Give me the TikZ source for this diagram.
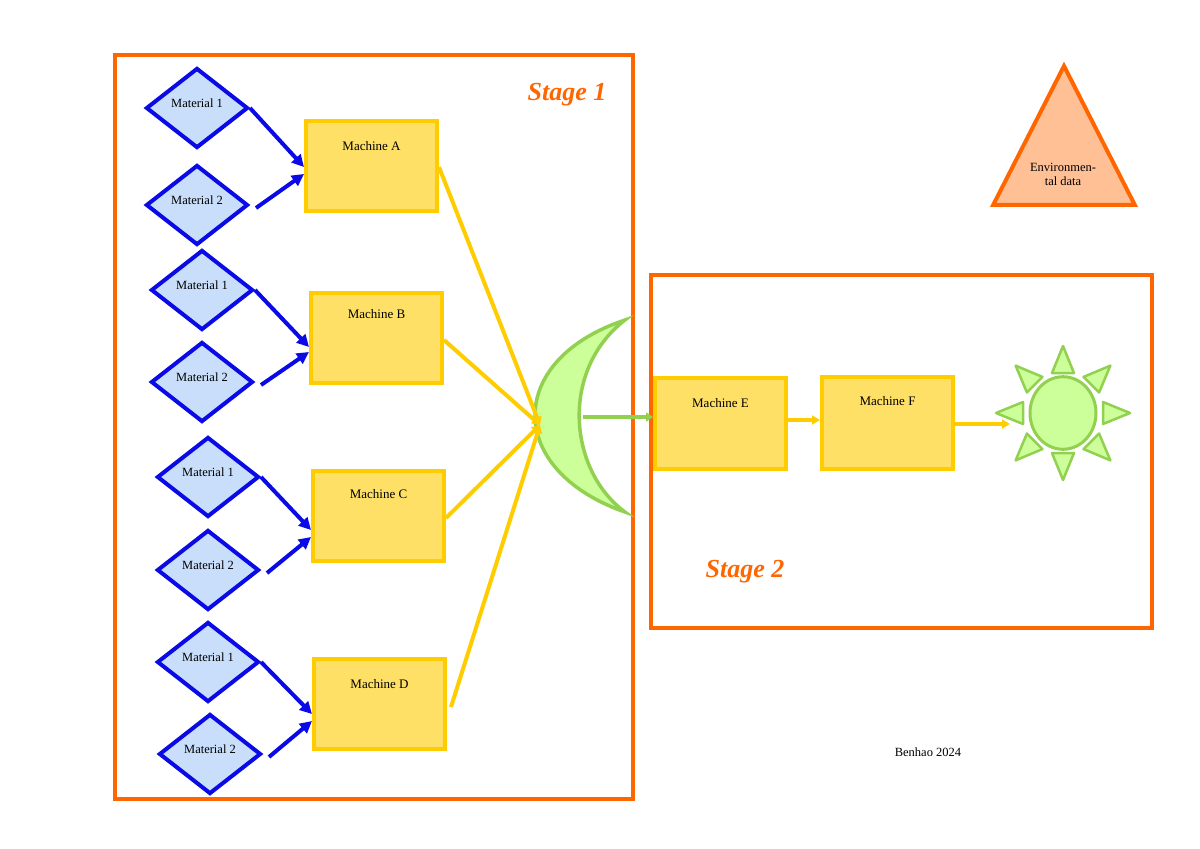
\documentclass[tikz,border=0pt]{standalone}
\usepackage{fontspec}
\setmainfont{Liberation Serif}
\usetikzlibrary{shapes.geometric,arrows.meta}
\definecolor{blu}{RGB}{10,10,230}
\definecolor{lblu}{RGB}{200,222,250}
\definecolor{org}{RGB}{255,102,0}
\definecolor{ylw}{RGB}{255,204,0}
\definecolor{lylw}{RGB}{255,224,102}
\definecolor{grn}{RGB}{146,208,80}
\definecolor{lgrn}{RGB}{204,255,153}
\definecolor{peach}{RGB}{255,192,150}
\begin{document}
\begin{tikzpicture}[x=1pt,y=-1pt,
 mat/.style={diamond,draw=blu,fill=lblu,line width=4pt,minimum width=102pt,minimum height=80pt,aspect=1.275,inner sep=0pt},
 mach/.style={rectangle,draw=ylw,fill=lylw,line width=4pt,minimum width=131pt,minimum height=90pt,anchor=north west,inner sep=0pt},
 mtext/.style={font=\fontsize{13}{14}\selectfont},
 barr/.style={draw=blu,line width=4pt,-{Triangle[length=12pt,width=12pt]}},
 yarr/.style={draw=ylw,line width=4pt,-{Triangle[length=8pt,width=9pt]}},
 stage/.style={draw=org,line width=4pt},
 slab/.style={text=org,font=\fontsize{26}{28}\selectfont\bfseries\itshape},
 ray/.style={draw=grn,fill=lgrn,line width=2.5pt,line join=round}]
\useasboundingbox (0,0) rectangle (1200,849);
\node[stage,minimum width=518pt,minimum height=744pt,anchor=north west] (s1) at (113,53) {};
\node[stage,minimum width=501pt,minimum height=353pt,anchor=north west] (s2) at (649,273) {};
\node[slab] (l1) at (567,95) {Stage 1};
\node[slab] (l2) at (745,572) {Stage 2};
% materials
\foreach \n/\x/\y in {a1/197/108,a2/197/205,b1/202/290,b2/202/382,c1/208/477,c2/208/570,d1/208/662,d2/210/754}{
 \node[mat] (\n) at (\x,\y) {};}
\foreach \n/\t in {a1/1,a2/2,b1/1,b2/2,c1/1,c2/2,d1/1,d2/2}{
 \node[font=\fontsize{12.5}{13}\selectfont,anchor=center] (t\n) at ([yshift=5pt]\n.center) {Material \t};}
% machines
\node[mach] (mA) at (304,119) {}; \node[mtext] (tA) at ([yshift=20pt]mA.center) {Machine A};
\node[mach] (mB) at (309,291) {}; \node[mtext] (tB) at ([yshift=24pt]mB.center) {Machine B};
\node[mach] (mC) at (311,469) {}; \node[mtext] (tC) at ([yshift=22pt]mC.center) {Machine C};
\node[mach] (mD) at (312,657) {}; \node[mtext] (tD) at ([yshift=20pt]mD.center) {Machine D};
\node[mach,minimum height=91pt] (mE) at (653,376) {}; \node[mtext] (tE) at ([yshift=20pt]mE.center) {Machine E};
\node[mach,minimum height=92pt] (mF) at (820,375) {}; \node[mtext] (tF) at ([yshift=22pt]mF.center) {Machine F};
% blue arrows
\foreach \m/\M/\p/\q in {a/A/-1/-8,b/B/-9/-14,c/C/-14/-21,d/D/-10/-17}{
 \draw[barr] (\m1.east) -- ([yshift=\p pt]m\M.west);
 \draw[barr] ([xshift=6pt,yshift=-3pt]\m2.east) -- ([yshift=\q pt]m\M.west);}
% moon
\coordinate (hub) at (540,425);
\path[draw=grn,fill=lgrn,line width=3.5pt] (625,320) .. controls (505,360) and (505,470) .. (625,512)
  .. controls (568,470) and (560,370) .. (625,320) -- cycle;
\node[inner sep=0pt,minimum size=2pt] (moon) at (582,417) {};
\draw[yarr] ([yshift=-1pt]mA.east) -- (hub);
\draw[yarr] ([yshift=-2pt]mB.east) -- (hub);
\draw[yarr] ([yshift=-2pt]mC.east) -- (hub);
\draw[yarr] ([yshift=-3pt,xshift=4pt]mD.east) -- (hub);
\draw[draw=grn,line width=3.5pt,-{Triangle[length=7pt,width=9pt]}] (moon) -- (mE.west |- moon);
\draw[yarr] (mE.east |- 0,420) -- (mF.west |- 0,420);
% sun
\node[circle,draw=grn,fill=lgrn,line width=3pt,minimum width=66pt,inner sep=0pt,yscale=1.1] (sun) at (1063,413) {};
\draw[yarr] (mF.east |- 0,424) -- (1010,424);
\foreach \a in {0,45,...,315}{
 \path[ray,rotate around={\a:(1063,413)}] (1103,402) -- (1103,424) -- (1130,413) -- cycle;}
% environmental
\node[isosceles triangle,isosceles triangle apex angle=54,shape border rotate=90,draw=org,fill=peach,line width=4pt,minimum height=139pt,inner sep=0pt,anchor=south] (env) at (1064,207) {};
\node[align=center,font=\fontsize{12.5}{14}\selectfont] (envt) at (1063,174) {Environmen-\\tal data};
\node[font=\fontsize{12.5}{14}\selectfont] (ben) at (928,752) {Benhao 2024};
\end{tikzpicture}
\end{document}
